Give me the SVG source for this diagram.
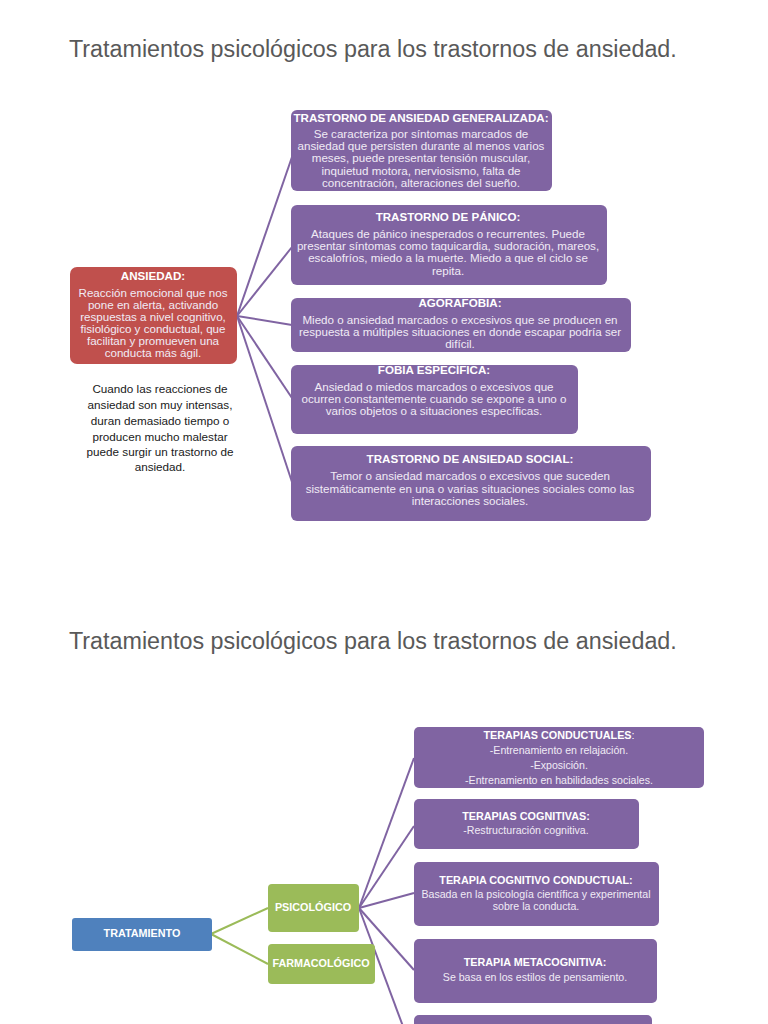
<svg xmlns="http://www.w3.org/2000/svg" width="768" height="1024" viewBox="0 0 768 1024">
<style>
text{font-family:"Liberation Sans",Arial,sans-serif;text-anchor:middle}
.title{font-size:23.3px;fill:#595959;text-anchor:start}
.pb{fill:#8064A2}
.h{font-size:11.6px;font-weight:bold;fill:#fff}
.b{font-size:11.6px;fill:#f0ebf5}
.h2{font-size:10.8px;font-weight:bold;fill:#fff}
.b2{font-size:10.6px;fill:#f0ebf5}
.p{font-size:11.7px;fill:#1a1a1a}
.pl{stroke:#8064A2;stroke-width:2;fill:none}
.gl{stroke:#9BBB59;stroke-width:2;fill:none}
</style>
<rect width="768" height="1024" fill="#fff"/>
<text class="title" x="69" y="57">Tratamientos psicológicos para los trastornos de ansiedad.</text>
<text class="title" x="69" y="649">Tratamientos psicológicos para los trastornos de ansiedad.</text>

<g id="connectors">
<line class="pl" x1="237" y1="316" x2="292" y2="157"/>
<line class="pl" x1="237" y1="316" x2="292" y2="247"/>
<line class="pl" x1="237" y1="316" x2="292" y2="325"/>
<line class="pl" x1="237" y1="316" x2="292" y2="398"/>
<line class="pl" x1="237" y1="316" x2="292" y2="482"/>
<line class="gl" x1="211" y1="934" x2="268" y2="908"/>
<line class="gl" x1="211" y1="934" x2="268" y2="964"/>
<line class="pl" x1="359" y1="908" x2="414" y2="758"/>
<line class="pl" x1="359" y1="908" x2="414" y2="826"/>
<line class="pl" x1="359" y1="908" x2="414" y2="893"/>
<line class="pl" x1="359" y1="908" x2="414" y2="970"/>
<line class="pl" x1="359" y1="908" x2="414" y2="1056"/>
</g>

<g id="ansiedad">
<rect x="70" y="267" width="167" height="97" rx="7" fill="#C0504D"/>
<text class="h" x="153" y="280">ANSIEDAD:</text>
<text class="b" x="153" y="297">Reacción emocional que nos</text>
<text class="b" x="153" y="309">pone en alerta, activando</text>
<text class="b" x="153" y="321">respuestas a nivel cognitivo,</text>
<text class="b" x="153" y="333">fisiológico y conductual, que</text>
<text class="b" x="153" y="345">facilitan y promueven una</text>
<text class="b" x="153" y="357">conducta más ágil.</text>
</g>

<g id="nota">
<text class="p" x="160" y="393">Cuando las reacciones de</text>
<text class="p" x="160" y="409">ansiedad son muy intensas,</text>
<text class="p" x="160" y="425">duran demasiado tiempo o</text>
<text class="p" x="160" y="441">producen mucho malestar</text>
<text class="p" x="160" y="456">puede surgir un trastorno de</text>
<text class="p" x="160" y="471">ansiedad.</text>
</g>

<g id="generalizada">
<rect class="pb" x="291" y="110" width="261" height="81" rx="6"/>
<text class="h" x="421" y="122">TRASTORNO DE ANSIEDAD GENERALIZADA:</text>
<text class="b" x="421" y="138">Se caracteriza por síntomas marcados de</text>
<text class="b" x="421" y="150">ansiedad que persisten durante al menos varios</text>
<text class="b" x="421" y="162">meses, puede presentar tensión muscular,</text>
<text class="b" x="421" y="175">inquietud motora, nerviosismo, falta de</text>
<text class="b" x="421" y="187">concentración, alteraciones del sueño.</text>
</g>

<g id="panico">
<rect class="pb" x="291" y="205" width="316" height="80" rx="6"/>
<text class="h" x="448" y="221">TRASTORNO DE PÁNICO:</text>
<text class="b" x="448" y="238">Ataques de pánico inesperados o recurrentes. Puede</text>
<text class="b" x="448" y="250">presentar síntomas como taquicardia, sudoración, mareos,</text>
<text class="b" x="448" y="262">escalofríos, miedo a la muerte. Miedo a que el ciclo se</text>
<text class="b" x="448" y="275">repita.</text>
</g>

<g id="agorafobia">
<rect class="pb" x="291" y="298" width="340" height="54" rx="6"/>
<text class="h" x="460" y="307">AGORAFOBIA:</text>
<text class="b" x="460" y="324">Miedo o ansiedad marcados o excesivos que se producen en</text>
<text class="b" x="460" y="336">respuesta a múltiples situaciones en donde escapar podría ser</text>
<text class="b" x="460" y="348">difícil.</text>
</g>

<g id="fobia">
<rect class="pb" x="291" y="365" width="287" height="69" rx="6"/>
<text class="h" x="434" y="374">FOBIA ESPECÍFICA:</text>
<text class="b" x="434" y="391">Ansiedad o miedos marcados o excesivos que</text>
<text class="b" x="434" y="403">ocurren constantemente cuando se expone a uno o</text>
<text class="b" x="434" y="415">varios objetos o a situaciones específicas.</text>
</g>

<g id="social">
<rect class="pb" x="291" y="446" width="360" height="75" rx="6"/>
<text class="h" x="470" y="463">TRASTORNO DE ANSIEDAD SOCIAL:</text>
<text class="b" x="470" y="480">Temor o ansiedad marcados o excesivos que suceden</text>
<text class="b" x="470" y="493">sistemáticamente en una o varias situaciones sociales como las</text>
<text class="b" x="470" y="505">interacciones sociales.</text>
</g>

<g id="tratamiento">
<rect x="72" y="918" width="140" height="33" rx="3" fill="#4F81BD"/>
<text class="h2" x="142" y="937">TRATAMIENTO</text>
</g>

<g id="psicologico">
<rect x="268" y="884" width="91" height="48" rx="4" fill="#9BBB59"/>
<text class="h2" x="313" y="911">PSICOLÓGICO</text>
</g>

<g id="farmacologico">
<rect x="268" y="944" width="107" height="40" rx="4" fill="#9BBB59"/>
<text class="h2" x="321" y="967">FARMACOLÓGICO</text>
</g>

<g id="conductuales">
<rect class="pb" x="414" y="727" width="290" height="61" rx="5"/>
<text class="h2" x="559" y="739">TERAPIAS CONDUCTUALES<tspan font-weight="normal">:</tspan></text>
<text class="b2" x="559" y="754">-Entrenamiento en relajación.</text>
<text class="b2" x="559" y="769">-Exposición.</text>
<text class="b2" x="559" y="784">-Entrenamiento en habilidades sociales.</text>
</g>

<g id="cognitivas">
<rect class="pb" x="414" y="799" width="225" height="50" rx="5"/>
<text class="h2" x="526" y="820">TERAPIAS COGNITIVAS:</text>
<text class="b2" x="526" y="834">-Restructuración cognitiva.</text>
</g>

<g id="ccc">
<rect class="pb" x="414" y="862" width="245" height="64" rx="5"/>
<text class="h2" x="536" y="884">TERAPIA COGNITIVO CONDUCTUAL:</text>
<text class="b2" x="536" y="898">Basada en la psicología científica y experimental</text>
<text class="b2" x="536" y="910">sobre la conducta.</text>
</g>

<g id="metacognitiva">
<rect class="pb" x="414" y="939" width="243" height="64" rx="5"/>
<text class="h2" x="535" y="966">TERAPIA METACOGNITIVA:</text>
<text class="b2" x="535" y="981">Se basa en los estilos de pensamiento.</text>
</g>

<g id="siguiente">
<rect class="pb" x="414" y="1015" width="238" height="40" rx="5"/>
</g>
</svg>
